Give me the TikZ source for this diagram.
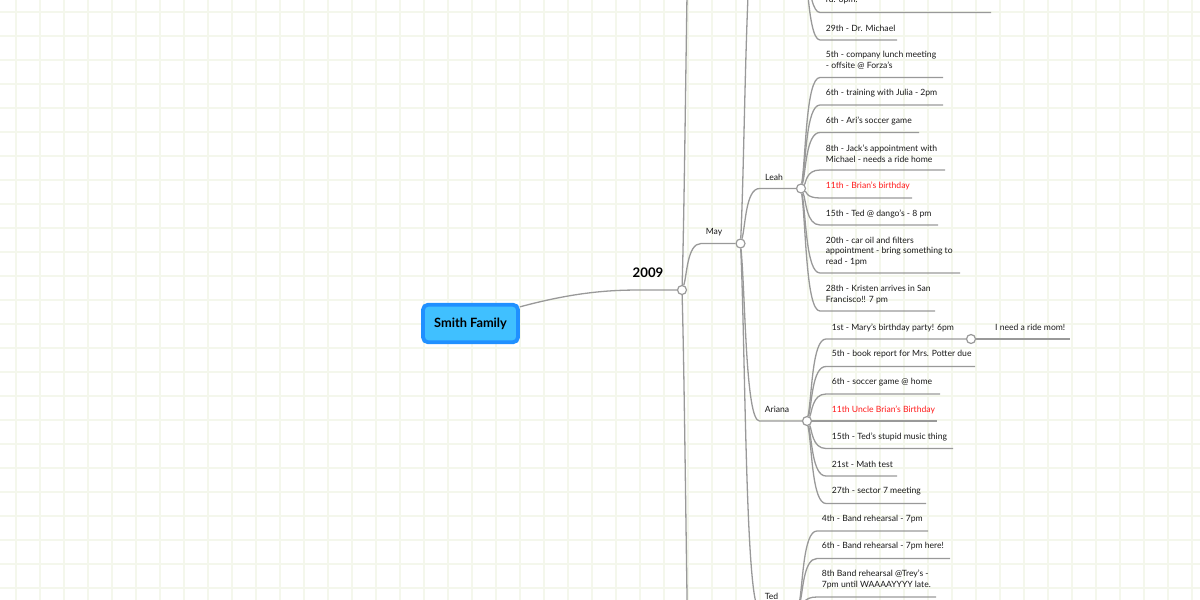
\documentclass[tikz,border=0pt]{standalone}
\usepackage{fontspec}
\setmainfont{Lato}
\usetikzlibrary{calc}
\usetikzlibrary{backgrounds}

\tikzset{
  gridline/.style={line width=1.6pt, draw=gridgreen},
  branch/.style={line width=1.3pt, draw=branchgray},
  hub/.style={circle, draw=branchgray, fill=white, line width=1.2pt, minimum size=9pt, inner sep=0pt},
  item/.style={anchor=west, align=left, inner sep=0pt, font=\fontsize{8.6}{10.6}\selectfont, text=black!90},
  label/.style={anchor=center, inner sep=0pt, font=\fontsize{8.6}{10.6}\selectfont, text=black!90},
  alert/.style={item, text=alertred},
}
\definecolor{gridgreen}{HTML}{F4F7EC}
\definecolor{branchgray}{HTML}{999999}
\definecolor{alertred}{HTML}{FF1A1A}
\definecolor{rootfill}{HTML}{40C0FF}
\definecolor{rootedge}{HTML}{2090FF}

% hub, end of the underline
\newcommand{\twig}[2]{%
  \draw[branch] (#1) .. controls ($(#1)!0.3!(#1 |- #2)+(5,0)$) and ($(#1 |- #2)+(5,0)$) .. ($(#1 |- #2)+(19,0)$) -- (#2);}

\begin{document}
\begin{tikzpicture}[x=1pt, y=-1pt]
      \useasboundingbox (0,0) rectangle (1200,600);

      \node[draw=rootedge, fill=rootfill, line width=3.8pt, rounded corners=5pt, minimum width=95pt, minimum height=37.5pt, inner sep=0pt, font=\fontsize{12.8}{14}\selectfont\bfseries] (root) at (470.5,323.5) {Smith Family};

      \node[hub] (year) at (682,290) {};
      \node[hub] (may) at (740.5,243.5) {};
      \node[hub] (leah) at (801,188.5) {};
      \node[hub] (ariana) at (807,421) {};
      \node[hub] (ted) at (798,609) {};
      \node[hub] (mary) at (971,339) {};
      \coordinate (yearup) at (739,-300);
      \coordinate (yeardown) at (739,900);
      \coordinate (earlier) at (801,-100);

      \node[anchor=center, inner sep=0pt, font=\fontsize{13.2}{15}\selectfont\bfseries] (yeartext) at (648,272.5) {2009};
      \node[label] (maytext) at (714,232.5) {May};
      \node[label] (leahtext) at (774,177.5) {Leah};
      \node[label] (arianatext) at (777,409.5) {Ariana};
      \node[label] (tedtext) at (771.5,596.5) {Ted};

      % above the leah hub
      \node[item] (rdtext) at (825.7,0.5) {rd. 6pm.};
      \node[item] (michaeltext) at (825.7,28) {29th - Dr. Michael};
      \coordinate (rdend) at (991,12.5);
      \coordinate (michaelend) at (897,40);

      % leah
      \node[item] (lunchtext) at (825.7,60.5) {5th - company lunch meeting\\- offsite @ Forza's};
      \node[item] (juliatext) at (825.7,93.5) {6th - training with Julia - 2pm};
      \node[item] (soccertext) at (825.7,120.5) {6th - Ari's soccer game};
      \node[item] (jacktext) at (825.7,153.5) {8th - Jack's appointment with\\Michael - needs a ride home};
      \node[alert] (briantext) at (825.7,186) {11th - Brian's birthday};
      \node[item] (dangotext) at (825.7,213.5) {15th - Ted @ dango's - 8 pm};
      \node[item] (oiltext) at (825.7,251.5) {20th - car oil and filters\\appointment - bring something to\\read - 1pm};
      \node[item] (kristentext) at (825.7,294.5) {28th - Kristen arrives in San\\Francisco!! 7 pm};
      \coordinate (lunchend) at (943,77.5);
      \coordinate (juliaend) at (943,105);
      \coordinate (soccerend) at (919,132.5);
      \coordinate (jackend) at (945,170);
      \coordinate (brianend) at (912,198);
      \coordinate (dangoend) at (938,225);
      \coordinate (oilend) at (960,273);
      \coordinate (kristenend) at (935,311);

      % ariana
      \node[item] (marytext) at (831.7,327.5) {1st - Mary's birthday party! 6pm};
      \node[item] (ridetext) at (995,327.5) {I need a ride mom!};
      \node[item] (reporttext) at (831.7,354.5) {5th - book report for Mrs. Potter due};
      \node[item] (hometext) at (831.7,382) {6th - soccer game @ home};
      \node[alert] (uncletext) at (831.7,409.5) {11th Uncle Brian's Birthday};
      \node[item] (musictext) at (831.7,437) {15th - Ted's stupid music thing};
      \node[item] (mathtext) at (831.7,464.5) {21st - Math test};
      \node[item] (sectortext) at (831.7,491.5) {27th - sector 7 meeting};
      \coordinate (rideend) at (1070,339);
      \coordinate (reportend) at (975,366.5);
      \coordinate (homeend) at (940,394);
      \coordinate (uncleend) at (937,421);
      \coordinate (musicend) at (953,448.5);
      \coordinate (mathend) at (897,476);
      \coordinate (sectorend) at (926,503.5);

      % ted
      \node[item] (fourthtext) at (821.7,519.5) {4th - Band rehearsal - 7pm};
      \node[item] (sixthtext) at (821.7,546.5) {6th - Band rehearsal - 7pm here!};
      \node[item] (treytext) at (821.7,579.5) {8th Band rehearsal @Trey's -\\7pm until WAAAAYYYY late.};
      \coordinate (fourthend) at (928,531);
      \coordinate (sixthend) at (950,558.5);
      \coordinate (treyend) at (936,597);

      \begin{scope}[on background layer]
        \clip (0,0) rectangle (1200,600);
        \foreach \gx in {16,40,...,1192}
          \draw[gridline] (\gx,0) -- (\gx,600);
        \foreach \gy in {12,36,...,588}
          \draw[gridline] (0,\gy) -- (1200,\gy);

        \draw[branch] ([yshift=-4pt]root.north east) .. controls (575,292) and (610,290) .. (640,290) -- (year);
        \twig{year}{yearup}
        \twig{year}{yeardown}
        \twig{year}{may}
        \twig{may}{earlier}
        \twig{may}{leah}
        \twig{may}{ariana}
        \twig{may}{ted}

        \twig{earlier}{rdend}
        \twig{earlier}{michaelend}

        \twig{leah}{lunchend}
        \twig{leah}{juliaend}
        \twig{leah}{soccerend}
        \twig{leah}{jackend}
        \twig{leah}{brianend}
        \twig{leah}{dangoend}
        \twig{leah}{oilend}
        \twig{leah}{kristenend}

        \twig{ariana}{mary}
        \draw[branch] (mary) -- (rideend);
        \twig{ariana}{reportend}
        \twig{ariana}{homeend}
        \twig{ariana}{uncleend}
        \twig{ariana}{musicend}
        \twig{ariana}{mathend}
        \twig{ariana}{sectorend}

        \twig{ted}{fourthend}
        \twig{ted}{sixthend}
        \twig{ted}{treyend}
      \end{scope}
    \end{tikzpicture}
\end{document}
